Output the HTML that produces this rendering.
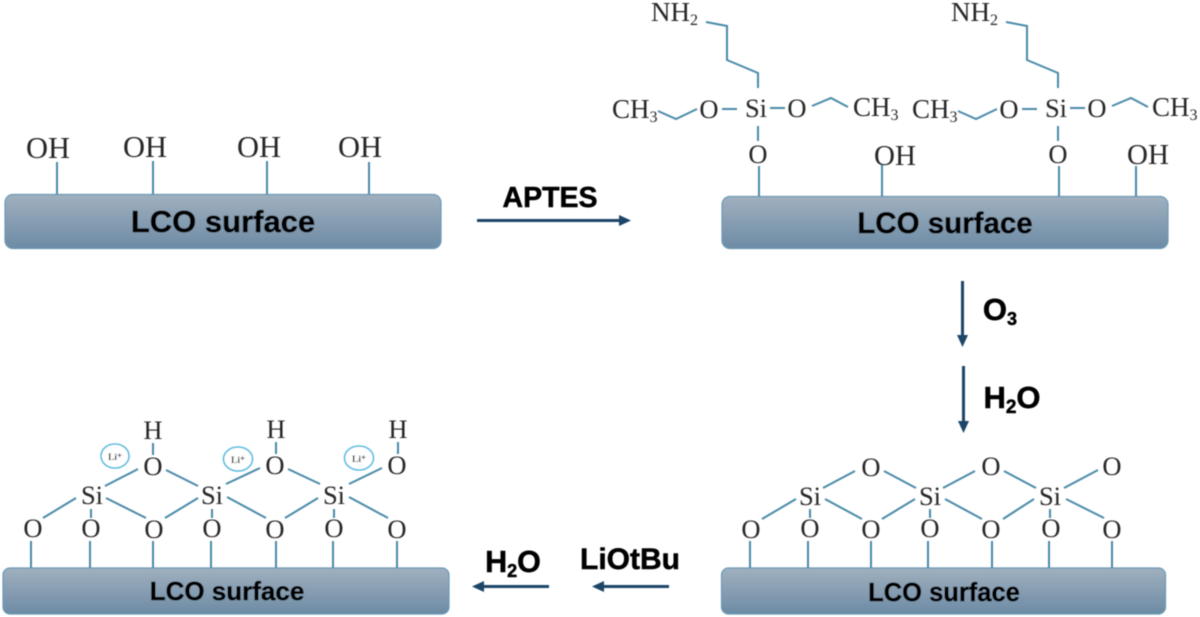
<!DOCTYPE html>
<html><head><meta charset="utf-8"><style>
html,body{margin:0;padding:0;background:#fff;width:1200px;height:617px;overflow:hidden}
svg{display:block}
.c{font-family:"Liberation Serif",serif;font-size:26.500px;fill:#262626;text-anchor:middle}
.n{font-size:27px;text-anchor:start}
.s{font-size:16px}
.b{font-family:"Liberation Sans",sans-serif;font-weight:bold;fill:#000;stroke:#000;stroke-width:.5px;text-anchor:middle}
.l{stroke:#4a8aa8;stroke-width:2;fill:none}
.box{fill:url(#g);stroke:#6a9ab5;stroke-width:1.2}
.a{stroke:#1c4468;stroke-width:3;fill:none}
.h{fill:#1c4468}
.li{fill:#fff;stroke:#55bbe0;stroke-width:1.6}
.lt{font-family:"Liberation Serif",serif;font-size:9.500px;font-weight:bold;fill:#333;text-anchor:middle}
</style></head><body>
<svg width="1200" height="617" viewBox="0 0 1200 617" xmlns="http://www.w3.org/2000/svg">
<defs>
<linearGradient id="g" x1="0" y1="0" x2="0" y2="1"><stop offset="0" stop-color="#a0b0bf"/><stop offset="1" stop-color="#6d8ba5"/></linearGradient>
<filter id="bl" x="-2%" y="-2%" width="104%" height="104%"><feGaussianBlur stdDeviation="0.45"/></filter>
</defs>
<g filter="url(#bl)">
<!-- top left -->
<rect class="box" x="5" y="194.500" width="436" height="54" rx="8"/>
<path class="l" d="M57 162V194M153 161V194M267 161V194M369 162V194"/>
<text class="c" x="48" y="158" style="font-size:30.500px">OH</text>
<text class="c" x="145" y="157" style="font-size:30.500px">OH</text>
<text class="c" x="259" y="157" style="font-size:30.500px">OH</text>
<text class="c" x="360" y="157" style="font-size:30.500px">OH</text>
<text class="b" x="223" y="232" font-size="31">LCO surface</text>

<!-- APTES -->
<text class="b" x="550" y="207" font-size="28.500">APTES</text>
<path class="a" d="M477 220.500H622"/><path class="h" d="M631 220.500L619 215V226Z"/>

<!-- top right -->
<rect class="box" x="722" y="196.500" width="446" height="52" rx="8"/>
<path class="l" d="M706 22L727 26V60L758 73V88M658 111L676 119L697 109M722 109H737M770 108H785M812 106L831 98L848 107M758 126V141M759 166V196M882 165V196"/>
<path class="l" d="M1006 22L1027 26V60L1058 73V88M958 111L976 119L997 109M1022 109H1037M1070 108H1085M1112 106L1131 98L1148 107M1058 126V141M1059 166V196M1136 166V196"/>
<text class="c n" x="651" y="21">NH<tspan class="s" dy="4">2</tspan></text>
<text class="c n" x="951" y="21">NH<tspan class="s" dy="4">2</tspan></text>
<text class="c n" x="612" y="118">CH<tspan class="s" dy="4">3</tspan></text>
<text class="c n" x="912" y="118">CH<tspan class="s" dy="4">3</tspan></text>
<text class="c n" x="853" y="116">CH<tspan class="s" dy="4">3</tspan></text>
<text class="c n" x="1152" y="116">CH<tspan class="s" dy="4">3</tspan></text>
<text class="c" x="709" y="118">O</text><text class="c" x="756" y="117">Si</text><text class="c" x="797" y="117">O</text><text class="c" x="758" y="163">O</text>
<text class="c" x="1009" y="118">O</text><text class="c" x="1056" y="117">Si</text><text class="c" x="1097" y="117">O</text><text class="c" x="1058" y="163">O</text>
<text class="c" x="895" y="165" style="font-size:29px">OH</text><text class="c" x="1148" y="164" style="font-size:29px">OH</text>
<text class="b" x="945" y="233" font-size="29.500">LCO surface</text>

<!-- vertical arrows -->
<path class="a" d="M962.500 281V338"/><path class="h" d="M962.500 347L957 335H968Z"/>
<text class="b" x="1000" y="320" font-size="31">O<tspan font-size="18" dy="5">3</tspan></text>
<path class="a" d="M963.500 366V424"/><path class="h" d="M963.500 433L958 421H969Z"/>
<text class="b" x="1012" y="408" font-size="31">H<tspan font-size="19" dy="5">2</tspan><tspan dy="-5">O</tspan></text>

<!-- bottom right -->
<rect class="box" x="721.500" y="568" width="444" height="46" rx="7"/>
<path class="l" d="M750 541V568M808 541V568M871 541V568M928 541V568M992 541V568M1049 541V568M1112 541V568"/>
<path class="l" d="M762 519L796 499M823 488L855 471M884 471L916 488M825 499L862 519M882 519L915 499M943 488L975 471M1004 471L1036 488M945 499L982 519M1003 519L1034 499M1064 488L1098 470M1066 499L1104 518M810 509V518M930 509V518M1050 509V518"/>
<text class="c" x="751" y="538">O</text><text class="c" x="810" y="537">O</text><text class="c" x="871" y="538">O</text><text class="c" x="930" y="537">O</text><text class="c" x="991" y="538">O</text><text class="c" x="1051" y="537">O</text><text class="c" x="1112" y="538">O</text>
<text class="c" x="810" y="505">Si</text><text class="c" x="930" y="505">Si</text><text class="c" x="1050" y="505">Si</text>
<text class="c" x="871" y="476">O</text><text class="c" x="991" y="475">O</text><text class="c" x="1112" y="475">O</text>
<text class="b" x="944" y="601" font-size="25.500">LCO surface</text>

<!-- bottom arrows -->
<text class="b" x="513" y="572" font-size="30.500">H<tspan font-size="18" dy="5">2</tspan><tspan dy="-5">O</tspan></text>
<path class="a" d="M549 586.500H480"/><path class="h" d="M472 586.500L484 581V592Z"/>
<text class="b" x="630" y="569" font-size="30">LiOtBu</text>
<path class="a" d="M669 586.500H600"/>
<path class="h" d="M592 586.500L604 581V592Z"/>

<!-- bottom left -->
<rect class="box" x="3" y="568" width="446" height="46" rx="7"/>
<path class="l" d="M31 541V568M90 541V568M153 541V568M211 541V568M276 541V568M333 541V568M397 541V568"/>
<path class="l" d="M43 518L76 498M105 486L138 469M166 470L198 486M106 498L146 518M165 518L198 498M226 484L260 468M288 469L320 484M227 497L266 518M285 518L318 498M349 484L382 468M349 497L388 518M91 509V518M212 509V518M334 509V518M153 443V455M276 442V454M398 442V454"/>
<text class="c" x="33" y="537">O</text><text class="c" x="91" y="537">O</text><text class="c" x="154" y="538">O</text><text class="c" x="212" y="537">O</text><text class="c" x="275" y="538">O</text><text class="c" x="334" y="537">O</text><text class="c" x="397" y="538">O</text>
<text class="c" x="92" y="504">Si</text><text class="c" x="212" y="504">Si</text><text class="c" x="334" y="504">Si</text>
<text class="c" x="153" y="475">O</text><text class="c" x="275" y="474">O</text><text class="c" x="397" y="474">O</text>
<text class="c" x="153" y="439">H</text><text class="c" x="276" y="438">H</text><text class="c" x="398" y="438">H</text>
<ellipse class="li" cx="115" cy="456" rx="14" ry="12"/><text class="lt" x="115" y="460">Li⁺</text>
<ellipse class="li" cx="238" cy="459" rx="14.500" ry="12"/><text class="lt" x="238" y="463">Li⁺</text>
<ellipse class="li" cx="359" cy="458" rx="14.500" ry="12"/><text class="lt" x="359" y="462">Li⁺</text>
<text class="b" x="227" y="600" font-size="26">LCO surface</text>
</g>
</svg>
</body></html>
